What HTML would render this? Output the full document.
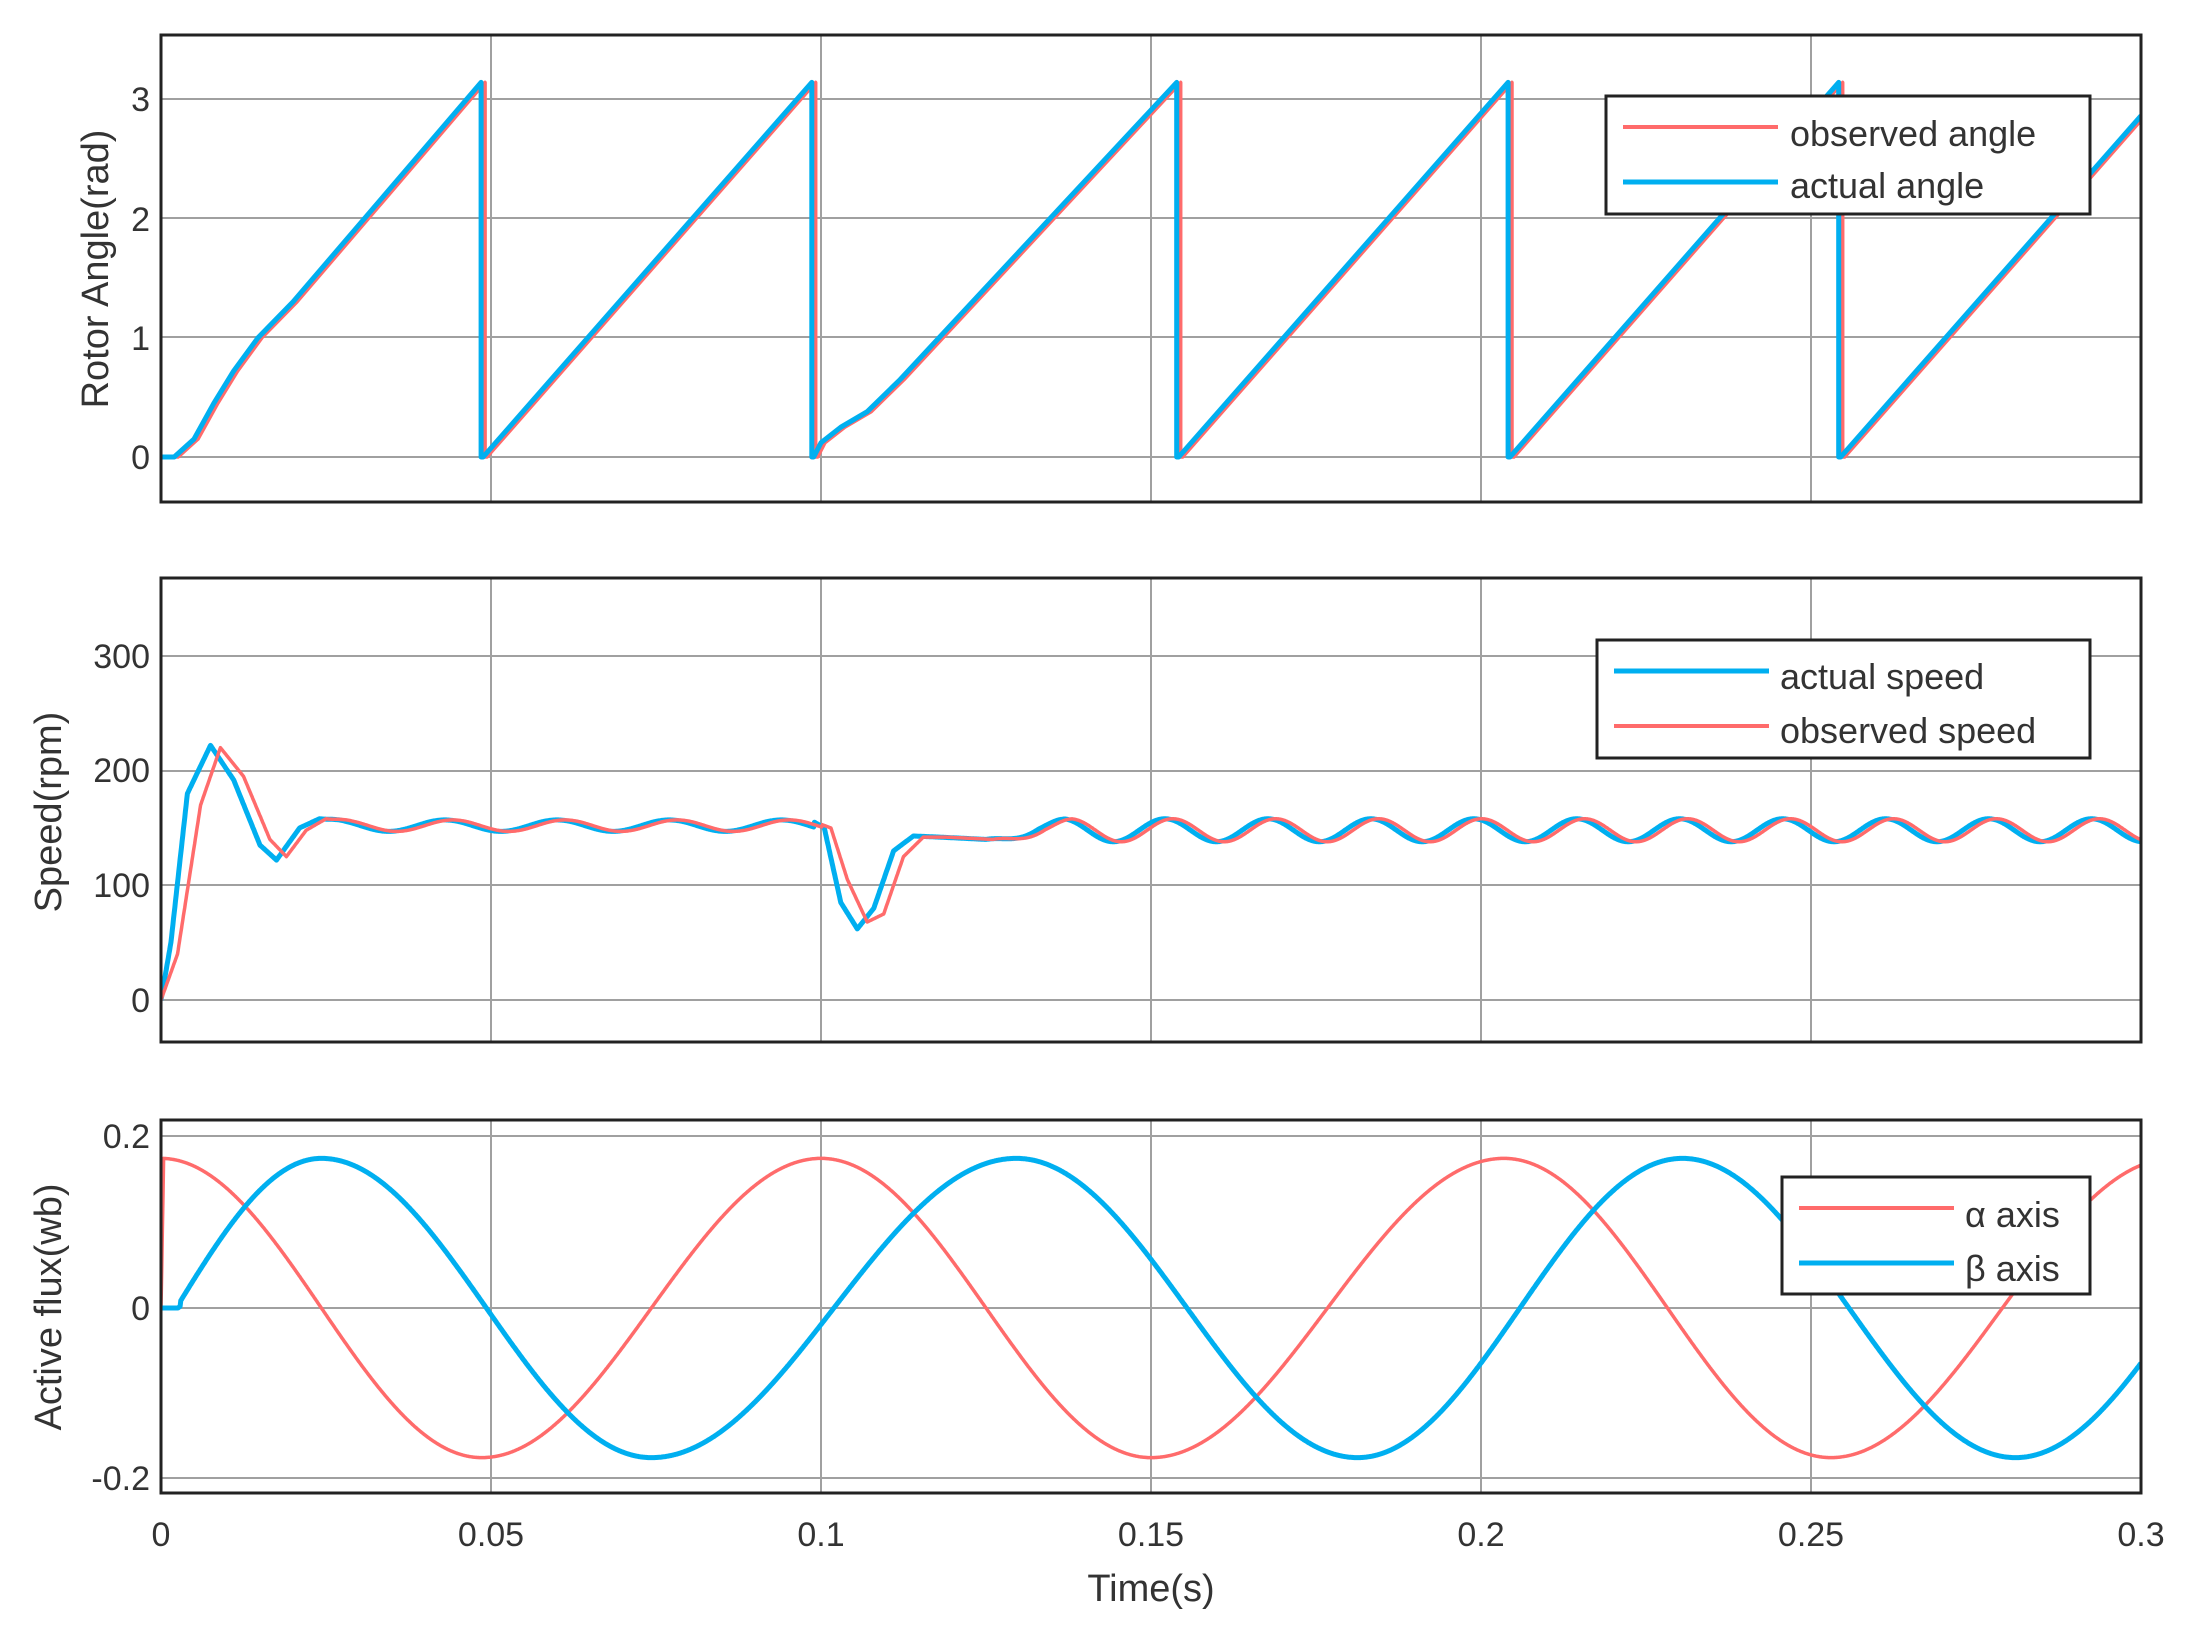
<!DOCTYPE html>
<html><head><meta charset="utf-8"><style>
html,body{margin:0;padding:0;background:#fff}
svg{display:block}
text{font-family:"Liberation Sans",sans-serif;fill:#333}
</style></head><body>
<svg id="s" width="2185" height="1626" viewBox="0 0 2185 1626" xmlns="http://www.w3.org/2000/svg">
<defs>
<clipPath id="c1"><rect x="161" y="35" width="1980" height="467"/></clipPath>
<clipPath id="c2"><rect x="161" y="578" width="1980" height="464"/></clipPath>
<clipPath id="c3"><rect x="161" y="1120" width="1980" height="373"/></clipPath>
</defs>
<g id="grid" stroke="#a0a0a0" stroke-width="2" fill="none"></g>
<g id="curves" fill="none" stroke-linejoin="round"></g>
<g id="frames" fill="none" stroke="#222" stroke-width="3">
<rect x="161" y="35" width="1980" height="467"/>
<rect x="161" y="578" width="1980" height="464"/>
<rect x="161" y="1120" width="1980" height="373"/>
</g>
<g font-size="34" text-anchor="end">
<text x="150" y="469">0</text><text x="150" y="350">1</text><text x="150" y="231">2</text><text x="150" y="111">3</text>
<text x="150" y="1012">0</text><text x="150" y="897">100</text><text x="150" y="782">200</text><text x="150" y="668">300</text>
<text x="150" y="1490">-0.2</text><text x="150" y="1320">0</text><text x="150" y="1148">0.2</text>
</g>
<g font-size="34" text-anchor="middle">
<text x="161" y="1546">0</text><text x="491" y="1546">0.05</text><text x="821" y="1546">0.1</text>
<text x="1151" y="1546">0.15</text><text x="1481" y="1546">0.2</text><text x="1811" y="1546">0.25</text><text x="2141" y="1546">0.3</text>
<text x="1151" y="1601" font-size="38">Time(s)</text>
<text transform="translate(108,269) rotate(-90)" font-size="38">Rotor Angle(rad)</text>
<text transform="translate(61,812) rotate(-90)" font-size="38">Speed(rpm)</text>
<text transform="translate(61,1307) rotate(-90)" font-size="38">Active flux(wb)</text>
</g>
<g>
<rect x="1606" y="96" width="484" height="118" fill="#fff" stroke="#222" stroke-width="3"/>
<line x1="1623" y1="127" x2="1778" y2="127" stroke="#ff6b6b" stroke-width="4"/>
<line x1="1623" y1="182" x2="1778" y2="182" stroke="#00aff0" stroke-width="5"/>
<text x="1790" y="146" font-size="36">observed angle</text>
<text x="1790" y="198" font-size="36">actual angle</text>
<rect x="1597" y="640" width="493" height="118" fill="#fff" stroke="#222" stroke-width="3"/>
<line x1="1614" y1="671" x2="1769" y2="671" stroke="#00aff0" stroke-width="5"/>
<line x1="1614" y1="726" x2="1769" y2="726" stroke="#ff6b6b" stroke-width="4"/>
<text x="1780" y="689" font-size="36">actual speed</text>
<text x="1780" y="743" font-size="36">observed speed</text>
<rect x="1782" y="1177" width="308" height="117" fill="#fff" stroke="#222" stroke-width="3"/>
<line x1="1799" y1="1208" x2="1954" y2="1208" stroke="#ff6b6b" stroke-width="4"/>
<line x1="1799" y1="1263" x2="1954" y2="1263" stroke="#00aff0" stroke-width="5"/>
<text x="1965" y="1227" font-size="36">α axis</text>
<text x="1965" y="1281" font-size="36">β axis</text>
</g>
</svg>
<script>
(function(){
var NS="http://www.w3.org/2000/svg";
var X=function(t){return 161+t*6600;};
var grid=document.getElementById('grid'), cur=document.getElementById('curves');
function line(g,x1,y1,x2,y2){var l=document.createElementNS(NS,'line');l.setAttribute('x1',x1);l.setAttribute('y1',y1);l.setAttribute('x2',x2);l.setAttribute('y2',y2);g.appendChild(l);}
var panels=[[35,502],[578,1042],[1120,1493]];
panels.forEach(function(p){for(var i=1;i<6;i++){var x=X(i*0.05);line(grid,x,p[0],x,p[1]);}});
[99,218,337,457].forEach(function(y){line(grid,161,y,2141,y);});
[656,771,885,1000].forEach(function(y){line(grid,161,y,2141,y);});
[1136,1308,1478].forEach(function(y){line(grid,161,y,2141,y);});
function interp(pts,t){if(t<=pts[0][0])return pts[0][1];for(var i=1;i<pts.length;i++){if(t<=pts[i][0]){var a=pts[i-1],b=pts[i];var f=(t-a[0])/(b[0]-a[0]);return a[1]+(b[1]-a[1])*f;}}var a=pts[pts.length-2],b=pts[pts.length-1];return b[1]+(b[1]-a[1])/(b[0]-a[0])*(t-b[0]);}
function path(d,color,w,clip){var p=document.createElementNS(NS,'path');p.setAttribute('d',d);p.setAttribute('stroke',color);p.setAttribute('stroke-width',w);p.setAttribute('clip-path','url(#'+clip+')');cur.appendChild(p);}
var PI=3.14;
function angleD(sh){
 var segs=[
  [[0,0],[0.002,0],[0.005,0.15],[0.008,0.45],[0.011,0.72],[0.0147,1.0],[0.02,1.3],[0.0485,PI]],
  [[0.0488,0],[0.0986,PI]],
  [[0.0989,0],[0.1,0.12],[0.103,0.25],[0.107,0.38],[0.112,0.65],[0.1539,PI]],
  [[0.1542,0],[0.2041,PI]],
  [[0.2044,0],[0.2542,PI]],
  [[0.2545,0],[0.3,2.86]]];
 var d="";
 segs.forEach(function(s,si){
  for(var i=0;i<s.length;i++){var x=X(s[i][0]+(i>0?sh:0)+(si>0&&i==0?sh:0)),y=457-s[i][1]*119.3;
   d+=(i==0?(si==0?"M":"L"):"L")+x.toFixed(1)+" "+y.toFixed(1)+" ";
   if(i==s.length-1&&si<segs.length-1){d+="L"+x.toFixed(1)+" 457 ";}
  }
 });
 return d;
}
path(angleD(0.0006),"#ff6b6b",3.5,"c1");
path(angleD(0),"#00aff0",5,"c1");
function speed(t,red){
 var pts=red?[[0,0],[0.0025,40],[0.006,170],[0.009,220],[0.0125,195],[0.0165,140],[0.019,125],[0.022,148],[0.025,158]]
            :[[0,0],[0.0015,50],[0.004,180],[0.0075,222],[0.011,192],[0.015,135],[0.0175,122],[0.021,150],[0.024,158]];
 var end=pts[pts.length-1][0];
 if(t<end)return interp(pts,t);
 var sh=red?0.0012:0;
 if(t<0.099+sh){var v=152+5*Math.cos(2*Math.PI*(t-0.026-sh)/0.017);var f=Math.min(1,(t-end)/0.004);return 158*(1-f)+v*f;}
 var p2=red?[[0.0992,155],[0.1015,150],[0.104,105],[0.107,68],[0.1095,75],[0.1125,125],[0.1155,142],[0.119,142],[0.126,140]]
           :[[0.099,155],[0.1005,150],[0.103,85],[0.1055,62],[0.108,80],[0.111,130],[0.114,143],[0.118,142],[0.125,140]];
 if(t<p2[p2.length-1][0])return interp(p2,t);
 var st=p2[p2.length-1][0];
 var amp=Math.min(10,(t-st)/0.012*10);
 return 148+amp*Math.cos(2*Math.PI*(t-0.1365-sh)/0.0156)-(1-Math.min(1,(t-st)/0.008))*8;
}
function speedD(red){var d="";for(var i=0;i<=3000;i++){var t=i*0.0001;var y=1000-speed(t,red)*1.147;d+=(i?"L":"M")+X(t).toFixed(1)+" "+y.toFixed(1)+" ";}return d;}
path(speedD(false),"#00aff0",5,"c2");
path(speedD(true),"#ff6b6b",3.5,"c2");
var rk=[[0,0],[0.0486,Math.PI],[0.1,2*Math.PI],[0.150,3*Math.PI],[0.2035,4*Math.PI],[0.253,5*Math.PI],[0.305,6*Math.PI]];
var bk=[[0,-0.3],[0.003,0.05],[0.0243,Math.PI/2],[0.0743,1.5*Math.PI],[0.1296,2.5*Math.PI],[0.1813,3.5*Math.PI],[0.2305,4.5*Math.PI],[0.281,5.5*Math.PI],[0.331,6.5*Math.PI]];
function fluxD(red){var d="";for(var i=0;i<=3000;i++){var t=i*0.0001;var v;
 if(red){v=0.175*Math.cos(interp(rk,t));if(t<0.0004)v=0.175*t/0.0004;}
 else{v=0.175*Math.sin(interp(bk,t));if(t<0.003)v=Math.max(0,v)*0.3;}
 var y=1308-v*855;d+=(i?"L":"M")+X(t).toFixed(1)+" "+y.toFixed(1)+" ";}return d;}
path(fluxD(true),"#ff6b6b",3.5,"c3");
path(fluxD(false),"#00aff0",5,"c3");
})();
</script>
</body></html>
